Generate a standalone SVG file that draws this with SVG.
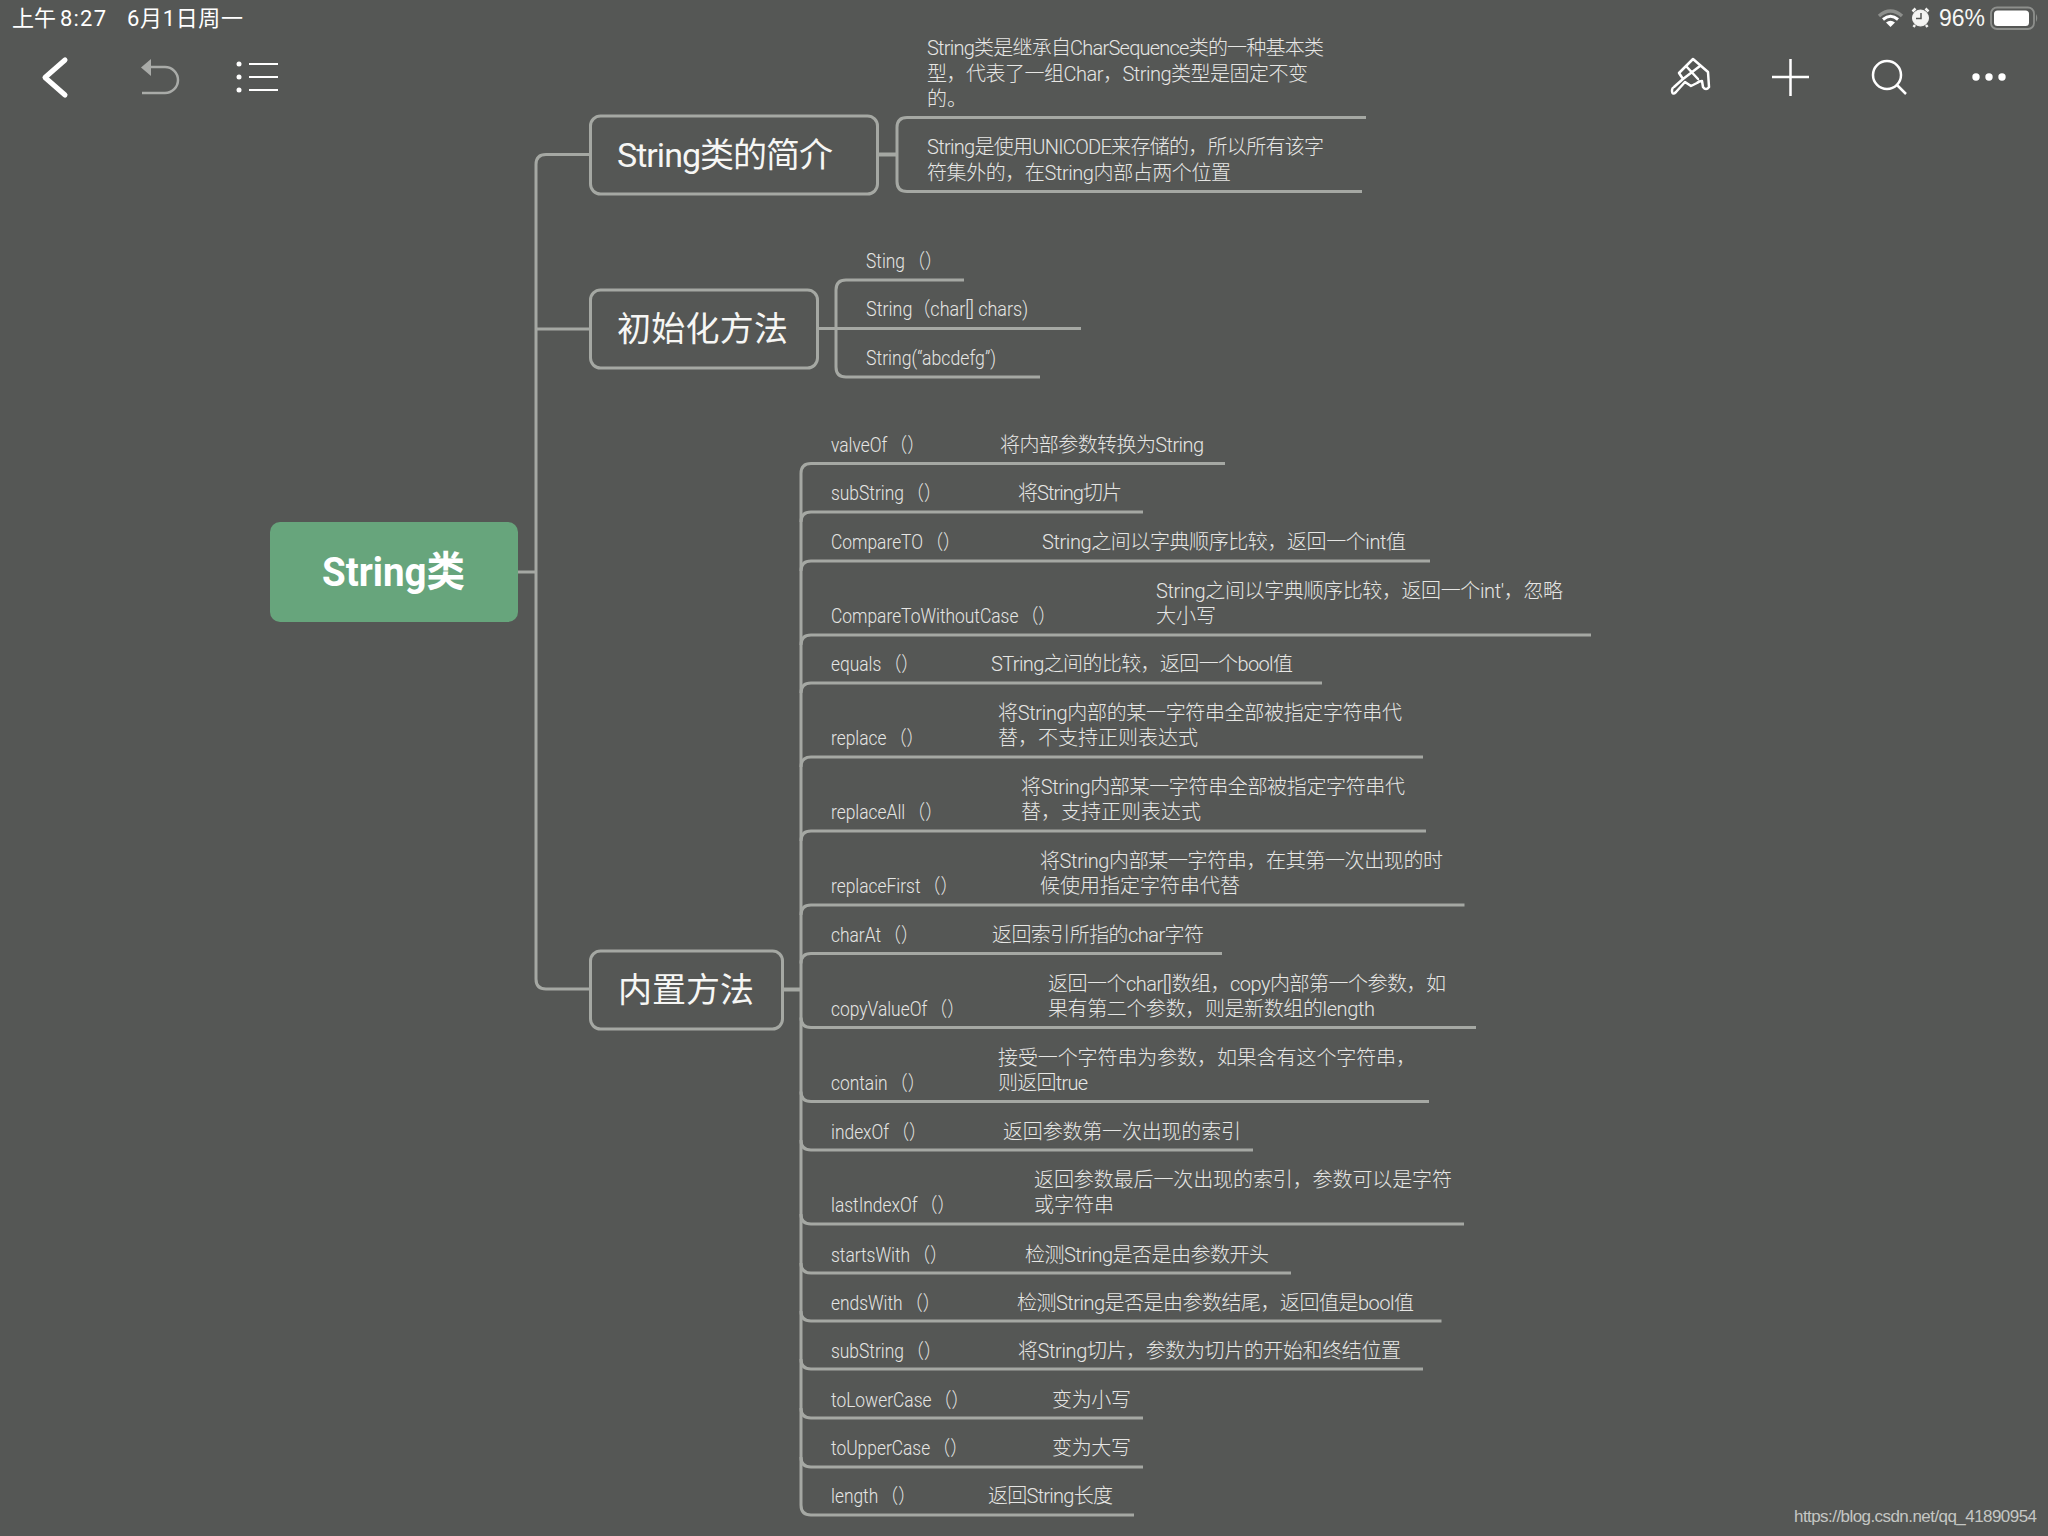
<svg xmlns="http://www.w3.org/2000/svg" width="2048" height="1536" viewBox="0 0 2048 1536">
<style>
text{font-family:Roboto,"Noto Sans CJK SC",sans-serif;fill:#e6e6e4}
.t{font-size:20px;font-weight:300}
.h{font-size:34px;fill:#f6f6f4;font-weight:400}
.n{fill:#555755;stroke:#a5a8a3;stroke-width:3}
.c{fill:none;stroke:#a5a8a3;stroke-width:3}
.i{fill:none;stroke:#fff;stroke-width:2.5;stroke-linecap:round;stroke-linejoin:round}
</style>
<rect id="background" width="2048" height="1536" fill="#555755"/>
<g id="status-bar">
<text x="12" y="26" style="font-size:22px;fill:#fff">上午</text>
<text x="60" y="26" style="font-size:22px;fill:#fff" textLength="46">8:27</text>
<text x="127" y="26" style="font-size:22px;fill:#fff" textLength="116">6月1日周一</text>
<path d="M1879,16 Q1890.500,6 1902,16" fill="none" stroke="#8d8f8c" stroke-width="3.500"/>
<path d="M1883,19.500 Q1890.500,13 1898,19.500" fill="none" stroke="#fff" stroke-width="3"/>
<path d="M1886,22.500 Q1890.500,19 1895,22.500 L1890.500,27Z" fill="#fff"/>
<circle cx="1920.500" cy="18" r="8" fill="#f4f4f2" stroke="#f4f4f2"/>
<path d="M1921,13V18.500H1916" fill="none" stroke="#555755" stroke-width="1.500"/>
<path d="M1912.500,11.500L1915.500,8.500M1928.500,11.500L1925.500,8.500M1915,25L1913.500,27M1926,25L1927.500,27" stroke="#f4f4f2" stroke-width="2.500" fill="none"/>
<text x="1939" y="26" style="font-family:'Liberation Sans',sans-serif;font-size:23px;fill:#f6f6f4" textLength="46">96%</text>
<rect x="1991" y="7.500" width="43" height="21.500" rx="6" fill="none" stroke="#8d8f8c" stroke-width="1.800"/>
<rect x="1994" y="10.500" width="35" height="15.500" rx="3.500" fill="#fff"/>
<path d="M2036,14Q2038.500,18 2036,22Z" fill="#8d8f8c"/>
</g>
<g id="toolbar">
<path d="M65,60L45,77.500L65,95" fill="none" stroke="#fff" stroke-width="5" stroke-linecap="round" stroke-linejoin="round"/>
<path d="M151,67H165A13,13 0 0 1 165,93H142" fill="none" stroke="#a9aba8" stroke-width="2.500"/>
<path d="M141,67.500L151,59V76Z" fill="#a9aba8"/>
<g fill="#fff"><circle cx="239" cy="64" r="2.500"/><circle cx="239" cy="77" r="2.500"/><circle cx="239" cy="90" r="2.500"/><rect x="249" y="63" width="29" height="2"/><rect x="249" y="76" width="29" height="2"/><rect x="249" y="89" width="29" height="2"/></g>
<path class="i" d="M1693,59L1708,72L1709,87Q1706,91 1703,87L1702,81Q1699,81 1697,83L1691,86L1685,82L1676,92Q1672,96 1672,90Q1672,88 1674,87L1683,79L1679,73ZM1683,79L1700,66M1686,66L1698,79"/>
<path d="M1772,77H1809M1790.500,59V96" stroke="#fff" stroke-width="2.500" fill="none"/>
<circle cx="1887" cy="75" r="14" fill="none" stroke="#fff" stroke-width="2.500"/>
<path d="M1897,85L1906,94" stroke="#fff" stroke-width="2.500" fill="none"/>
<g fill="#fff"><circle cx="1976" cy="77" r="3.700"/><circle cx="1989" cy="77" r="3.700"/><circle cx="2002" cy="77" r="3.700"/></g>
</g>
<g id="connectors">
<path class="c" d="M518,572H536"/>
<path class="c" d="M590,154.500H546Q536,154.500 536,164.500V979Q536,989 546,989H590"/>
<path class="c" d="M536,329H590"/>
<path class="c" style="stroke-width:4" d="M878,154.500H897"/>
<path class="c" d="M1366,117.500H907Q897,117.500 897,127.500V181.500Q897,191.500 907,191.500H1362"/>
<path class="c" d="M818,328.500H1081"/>
<path class="c" d="M964,280H846Q836,280 836,290V367Q836,377 846,377H1040"/>
<path class="c" style="stroke-width:4" d="M783,989.500H801"/>
<path class="c" d="M801,1505V473.500Q801,463.500 811,463.500H1225"/>
<path class="c" d="M801,1505Q801,1515 811,1515H1134"/>
<path class="c" d="M801,522Q801,512 811,512H1143"/>
<path class="c" d="M801,571Q801,561 811,561H1430"/>
<path class="c" d="M801,645Q801,635 811,635H1591"/>
<path class="c" d="M801,693Q801,683 811,683H1322"/>
<path class="c" d="M801,767Q801,757 811,757H1423"/>
<path class="c" d="M801,841Q801,831 811,831H1426"/>
<path class="c" d="M801,915Q801,905 811,905H1464.500"/>
<path class="c" d="M801,963.500Q801,953.500 811,953.500H1222"/>
<path class="c" d="M801,1017.500Q801,1027.500 811,1027.500H1476"/>
<path class="c" d="M801,1091.500Q801,1101.500 811,1101.500H1429"/>
<path class="c" d="M801,1140Q801,1150 811,1150H1253"/>
<path class="c" d="M801,1214Q801,1224 811,1224H1464"/>
<path class="c" d="M801,1263Q801,1273 811,1273H1291"/>
<path class="c" d="M801,1311Q801,1321 811,1321H1441.500"/>
<path class="c" d="M801,1359Q801,1369 811,1369H1423"/>
<path class="c" d="M801,1408Q801,1418 811,1418H1143"/>
<path class="c" d="M801,1457Q801,1467 811,1467H1143"/>
</g>
<g id="root"><rect x="270" y="522" width="248" height="100" rx="10" fill="#67a57c"/><text x="322" y="586" style="font-size:41px;font-weight:700;fill:#fff" textLength="143" lengthAdjust="spacingAndGlyphs">String类</text></g>
<g id="node-intro"><rect class="n" x="590.500" y="116" width="287" height="78" rx="10"/><text class="h" x="617" y="167" textLength="216">String类的简介</text></g>
<g id="node-init"><rect class="n" x="590.500" y="290" width="227" height="78" rx="10"/><text class="h" x="617" y="341" textLength="171">初始化方法</text></g>
<g id="node-builtin"><rect class="n" x="590.500" y="951" width="192" height="78" rx="10"/><text class="h" x="618" y="1002" textLength="136">内置方法</text></g>
<g id="intro-1"><text class="t" x="927" y="55" textLength="397">String类是继承自CharSequence类的一种基本类</text><text class="t" x="927" y="80.500" textLength="381">型，代表了一组Char，String类型是固定不变</text><text class="t" x="927" y="106">的。</text></g>
<g id="intro-2"><text class="t" x="927" y="154" textLength="397">String是使用UNICODE来存储的，所以所有该字</text><text class="t" x="927" y="179.500" textLength="304">符集外的，在String内部占两个位置</text></g>
<g id="init-1"><text class="t" transform="translate(866 268) scale(.87 1)">Sting<tspan dx="3">（）</tspan></text></g>
<g id="init-2"><text class="t" x="866" y="316" textLength="162" lengthAdjust="spacingAndGlyphs">String（char[] chars)</text></g>
<g id="init-3"><text class="t" x="866" y="365" textLength="130" lengthAdjust="spacingAndGlyphs">String(“abcdefg”)</text></g>
<g id="m-valveOf"><text class="t" transform="translate(831 452) scale(.87 1)">valveOf<tspan dx="3">（）</tspan></text><text class="t" x="1000" y="452" textLength="204">将内部参数转换为String</text></g>
<g id="m-subString"><text class="t" transform="translate(831 500) scale(.87 1)">subString<tspan dx="3">（）</tspan></text><text class="t" x="1018" y="500" textLength="104">将String切片</text></g>
<g id="m-CompareTO"><text class="t" transform="translate(831 548.500) scale(.87 1)">CompareTO<tspan dx="3">（）</tspan></text><text class="t" x="1042" y="548.500" textLength="364">String之间以字典顺序比较，返回一个int值</text></g>
<g id="m-CompareToWithoutCase"><text class="t" transform="translate(831 623) scale(.87 1)">CompareToWithoutCase<tspan dx="3">（）</tspan></text><text class="t" x="1156" y="597.500" textLength="407">String之间以字典顺序比较，返回一个int'，忽略</text><text class="t" x="1156" y="623">大小写</text></g>
<g id="m-equals"><text class="t" transform="translate(831 671) scale(.87 1)">equals<tspan dx="3">（）</tspan></text><text class="t" x="991" y="671" textLength="302">STring之间的比较，返回一个bool值</text></g>
<g id="m-replace"><text class="t" transform="translate(831 745) scale(.87 1)">replace<tspan dx="3">（）</tspan></text><text class="t" x="998" y="719.500" textLength="404">将String内部的某一字符串全部被指定字符串代</text><text class="t" x="998" y="745">替，不支持正则表达式</text></g>
<g id="m-replaceAll"><text class="t" transform="translate(831 819) scale(.87 1)">replaceAll<tspan dx="3">（）</tspan></text><text class="t" x="1021" y="793.500" textLength="384">将String内部某一字符串全部被指定字符串代</text><text class="t" x="1021" y="819">替，支持正则表达式</text></g>
<g id="m-replaceFirst"><text class="t" transform="translate(831 893) scale(.87 1)">replaceFirst<tspan dx="3">（）</tspan></text><text class="t" x="1040" y="867.500" textLength="403">将String内部某一字符串，在其第一次出现的时</text><text class="t" x="1040" y="893">候使用指定字符串代替</text></g>
<g id="m-charAt"><text class="t" transform="translate(831 941.500) scale(.87 1)">charAt<tspan dx="3">（）</tspan></text><text class="t" x="992" y="941.500" textLength="212">返回索引所指的char字符</text></g>
<g id="m-copyValueOf"><text class="t" transform="translate(831 1015.500) scale(.87 1)">copyValueOf<tspan dx="3">（）</tspan></text><text class="t" x="1048" y="991" textLength="398">返回一个char[]数组，copy内部第一个参数，如</text><text class="t" x="1048" y="1015.500" textLength="327">果有第二个参数，则是新数组的length</text></g>
<g id="m-contain"><text class="t" transform="translate(831 1089.500) scale(.87 1)">contain<tspan dx="3">（）</tspan></text><text class="t" x="998" y="1065" textLength="418">接受一个字符串为参数，如果含有这个字符串，</text><text class="t" x="998" y="1089.500" textLength="90">则返回true</text></g>
<g id="m-indexOf"><text class="t" transform="translate(831 1139) scale(.87 1)">indexOf<tspan dx="3">（）</tspan></text><text class="t" x="1003" y="1139" textLength="238">返回参数第一次出现的索引</text></g>
<g id="m-lastIndexOf"><text class="t" transform="translate(831 1212) scale(.87 1)">lastIndexOf<tspan dx="3">（）</tspan></text><text class="t" x="1034" y="1186.500" textLength="418">返回参数最后一次出现的索引，参数可以是字符</text><text class="t" x="1034" y="1212">或字符串</text></g>
<g id="m-startsWith"><text class="t" transform="translate(831 1261.500) scale(.87 1)">startsWith<tspan dx="3">（）</tspan></text><text class="t" x="1025" y="1261.500" textLength="244">检测String是否是由参数开头</text></g>
<g id="m-endsWith"><text class="t" transform="translate(831 1309.500) scale(.87 1)">endsWith<tspan dx="3">（）</tspan></text><text class="t" x="1017" y="1309.500" textLength="397">检测String是否是由参数结尾，返回值是bool值</text></g>
<g id="m-subString2"><text class="t" transform="translate(831 1358) scale(.87 1)">subString<tspan dx="3">（）</tspan></text><text class="t" x="1018" y="1358" textLength="383">将String切片，参数为切片的开始和终结位置</text></g>
<g id="m-toLowerCase"><text class="t" transform="translate(831 1406.500) scale(.87 1)">toLowerCase<tspan dx="3">（）</tspan></text><text class="t" x="1052" y="1406.500" textLength="79">变为小写</text></g>
<g id="m-toUpperCase"><text class="t" transform="translate(831 1455) scale(.87 1)">toUpperCase<tspan dx="3">（）</tspan></text><text class="t" x="1052" y="1455" textLength="79">变为大写</text></g>
<g id="m-length"><text class="t" transform="translate(831 1503) scale(.87 1)">length<tspan dx="3">（）</tspan></text><text class="t" x="988" y="1503" textLength="125">返回String长度</text></g>
<text id="watermark" x="1794" y="1522" style="font-family:'Liberation Sans',sans-serif;font-size:17px;fill:#c4c6c3" textLength="243">https://blog.csdn.net/qq_41890954</text>
</svg>
